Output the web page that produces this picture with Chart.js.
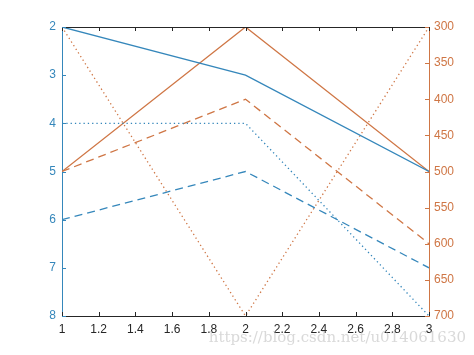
<!DOCTYPE html>
<html>
<head>
<meta charset="UTF-8">
<script src="https://cdn.jsdelivr.net/npm/chart.js@4"></script>
<style>
	body { margin: 0; background: #fff; }
	#box { width: 474px; height: 355px; }
</style>
</head>
<body>
<div id="box"><canvas id="c"></canvas></div>
<script>
	// x 값
	var xs = [1, 2, 3];
	// 왼쪽 축 (파랑)
	var leftSolid = [2, 3, 5];
	var leftDash = [6, 5, 7];
	var leftDot = [4, 4, 8];
	// 오른쪽 축 (주황)
	var rightSolid = [500, 300, 500];
	var rightDash = [500, 400, 600];
	var rightDot = [300, 700, 300];

	var xTicks = [1, 1.2, 1.4, 1.6, 1.8, 2, 2.2, 2.4, 2.6, 2.8, 3];
	var leftTicks = [2, 3, 4, 5, 6, 7, 8];
	var rightTicks = [300, 350, 400, 450, 500, 550, 600, 650, 700];

	var blue = '#3587bb';
	var orange = '#cf7645';

	function pts(ys) {
		return xs.map(function (x, i) { return { x: x, y: ys[i] }; });
	}

	function ds(ys, color, dash, axis) {
		return {
			data: pts(ys), yAxisID: axis, borderColor: color, borderWidth: 1.3,
			borderDash: dash, pointRadius: 0, fill: false, tension: 0
		};
	}

	// 안쪽 눈금 + 위쪽 테두리 + 워터마크
	var extras = {
		id: 'extras',
		afterDraw: function (chart) {
			var ctx = chart.ctx;
			var a = chart.chartArea;
			var sx = chart.scales.x, yl = chart.scales.yL, yr = chart.scales.yR;
			ctx.save();
			ctx.lineWidth = 1;
			ctx.strokeStyle = '#262626';
			ctx.beginPath();
			ctx.moveTo(a.left, a.top + 0.5);
			ctx.lineTo(a.right, a.top + 0.5);
			xTicks.forEach(function (v) {
				var px = Math.round(sx.getPixelForValue(v)) + 0.5;
				ctx.moveTo(px, a.bottom); ctx.lineTo(px, a.bottom - 4);
				ctx.moveTo(px, a.top); ctx.lineTo(px, a.top + 4);
			});
			ctx.stroke();
			ctx.strokeStyle = blue;
			ctx.beginPath();
			leftTicks.forEach(function (v) {
				var py = Math.round(yl.getPixelForValue(v)) + 0.5;
				ctx.moveTo(a.left, py); ctx.lineTo(a.left + 4, py);
			});
			ctx.stroke();
			ctx.strokeStyle = orange;
			ctx.beginPath();
			rightTicks.forEach(function (v) {
				var py = Math.round(yr.getPixelForValue(v)) + 0.5;
				ctx.moveTo(a.right, py); ctx.lineTo(a.right - 4, py);
			});
			ctx.stroke();
			ctx.fillStyle = 'rgba(180,180,180,0.5)';
			ctx.font = '15px "DejaVu Serif"';
			ctx.textAlign = 'right';
			ctx.textBaseline = 'middle';
			ctx.fillText('https://blog.csdn.net/u014061630', 466, 338);
			ctx.restore();
		}
	};

	var tickFont = { family: '"Liberation Sans", Arial, sans-serif', size: 12 };

	function plain(v) { return String(Math.round(v * 10) / 10); }

	new Chart(document.getElementById('c'), {
		type: 'line',
		data: {
			datasets: [
				ds(leftSolid, blue, [], 'yL'),
				ds(leftDash, blue, [8, 5], 'yL'),
				ds(leftDot, blue, [1.3, 3], 'yL'),
				ds(rightSolid, orange, [], 'yR'),
				ds(rightDash, orange, [8, 5], 'yR'),
				ds(rightDot, orange, [1.3, 3], 'yR')
			]
		},
		options: {
			responsive: true,
			maintainAspectRatio: false,
			animation: false,
			layout: { padding: { top: 27, left: 0, right: 0, bottom: 0 } },
			plugins: { legend: { display: false }, tooltip: { enabled: false } },
			scales: {
				x: {
					type: 'linear', min: 1, max: 3,
					afterFit: function (s) { s.height = 39; },
					afterBuildTicks: function (s) { s.ticks = xTicks.map(function (v) { return { value: v }; }); },
					grid: { display: false, drawTicks: false },
					border: { display: true, color: '#262626', width: 1 },
					ticks: { color: '#262626', font: tickFont, padding: 6, maxRotation: 0, autoSkip: false, callback: plain }
				},
				yL: {
					type: 'linear', position: 'left', reverse: true, min: 2, max: 8,
					afterFit: function (s) { s.width = 62; },
					afterBuildTicks: function (s) { s.ticks = leftTicks.map(function (v) { return { value: v }; }); },
					grid: { display: false, drawTicks: false },
					border: { display: true, color: blue, width: 1 },
					ticks: { color: blue, font: tickFont, padding: 6, autoSkip: false, callback: plain }
				},
				yR: {
					type: 'linear', position: 'right', reverse: true, min: 300, max: 700,
					afterFit: function (s) { s.width = 45; },
					afterBuildTicks: function (s) { s.ticks = rightTicks.map(function (v) { return { value: v }; }); },
					grid: { display: false, drawTicks: false },
					border: { display: true, color: orange, width: 1 },
					ticks: { color: orange, font: tickFont, padding: 5, autoSkip: false, callback: plain }
				}
			}
		},
		plugins: [extras]
	});
</script>
</body>
</html>
